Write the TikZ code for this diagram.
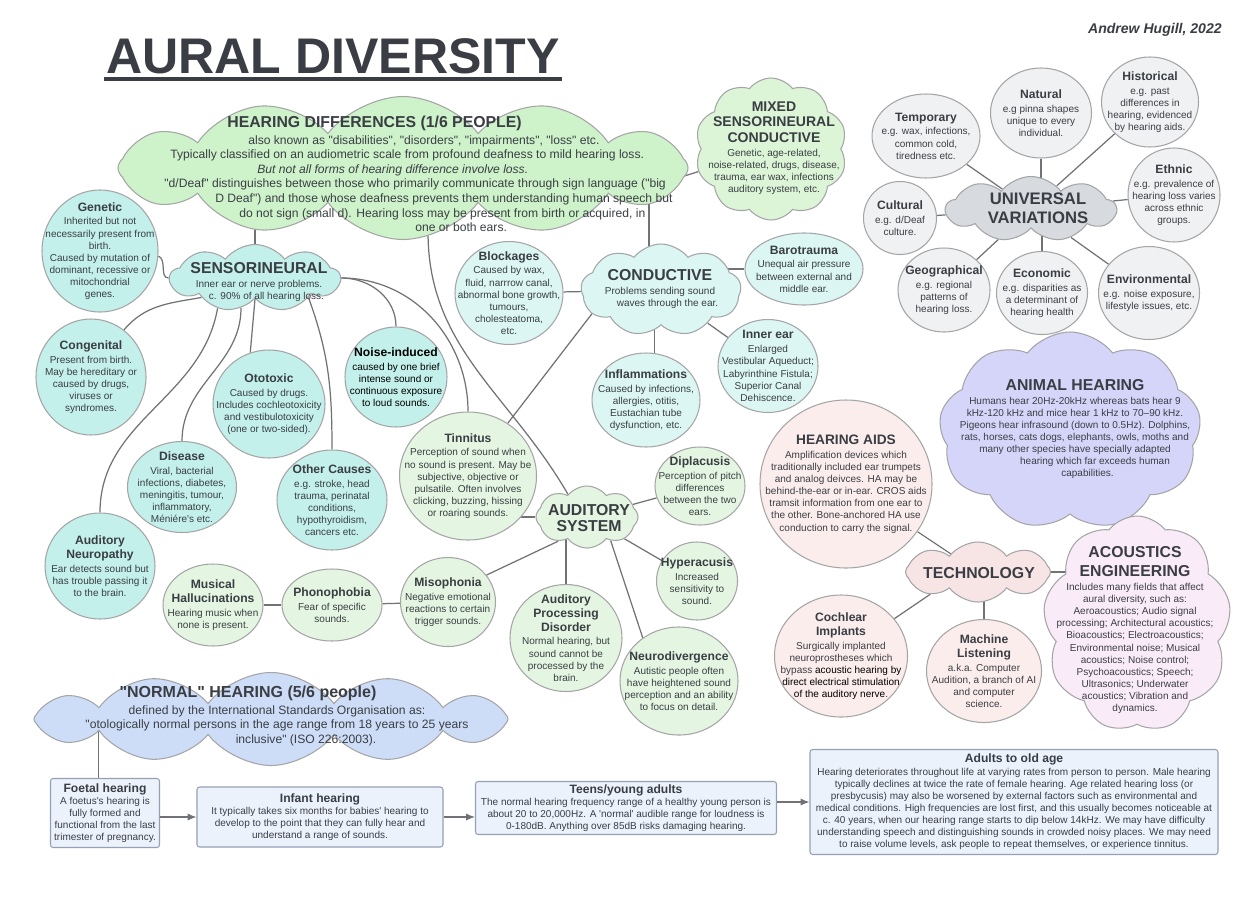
\documentclass[tikz,border=0pt]{standalone}
\usepackage{fontspec}
\setmainfont{Liberation Sans}[Ligatures=TeXOff]
\usepackage{tikz}
\usetikzlibrary{arrows.meta,positioning,calc,shapes.geometric,shapes.symbols}
\definecolor{ink}{RGB}{58,62,68}
\definecolor{rim}{RGB}{165,165,168}
\definecolor{linkgray}{RGB}{112,114,118}
\definecolor{hdgreen}{RGB}{206,242,201}
\definecolor{mixgreen}{RGB}{220,245,215}
\definecolor{sensteal}{RGB}{195,240,234}
\definecolor{condteal}{RGB}{219,246,243}
\definecolor{audgreen}{RGB}{228,246,225}
\definecolor{vargray}{RGB}{240,241,243}
\definecolor{varcloud}{RGB}{215,218,223}
\definecolor{animalblue}{RGB}{213,213,249}
\definecolor{techpink}{RGB}{251,237,236}
\definecolor{techcloud}{RGB}{247,229,229}
\definecolor{acoupink}{RGB}{249,236,248}
\definecolor{normblue}{RGB}{205,221,247}
\definecolor{boxfill}{RGB}{236,242,252}
\definecolor{boxedge}{RGB}{150,160,180}
\pgfdeclarelayer{bg}
\pgfsetlayers{bg,main}
\newcommand{\bodyfont}{\fontsize{5.7}{6.9}\selectfont}
\newcommand{\ttl}[1]{{\bfseries\fontsize{6.9}{8}\selectfont #1}}
\newcommand{\ctl}[1]{{\bfseries\fontsize{9}{10.8}\selectfont #1}}

\begin{document}
\begin{tikzpicture}[x=0.02cm, y=-0.02cm,
    dims/.style 2 args={minimum width=#1*0.02cm, minimum height=#2*0.02cm},
    bub/.style={ellipse, draw=rim, line width=0.6pt, inner sep=-3cm, align=center, text=ink, font=\bodyfont},
    sensbub/.style={bub, fill=sensteal},
    condbub/.style={bub, fill=condteal},
    audbub/.style={bub, fill=audgreen},
    varbub/.style={bub, fill=vargray},
    techbub/.style={bub, fill=techpink},
    cld/.style={cloud, cloud puffs=#1, cloud puff arc=105, cloud ignores aspect, draw=rim, line width=0.6pt, inner sep=0pt},
    ctext/.style={align=center, text=ink, font=\bodyfont, inner sep=0pt},
    bigtext/.style={ctext, font=\fontsize{6.9}{8.3}\selectfont},
    tbox/.style={rectangle, draw=boxedge, fill=boxfill, rounded corners=1.5pt, line width=0.6pt, align=center, text=ink, font=\bodyfont, inner sep=1pt},
    link/.style={draw=linkgray, line width=0.7pt},
    arrow/.style={-{Latex[length=5pt,width=4pt]}, draw=linkgray, line width=0.6pt}
]
\path[use as bounding box] (0,0) rectangle (1246,896);

\node[font=\fontsize{28.5}{30}\selectfont\bfseries, text=ink, inner sep=0pt] (title) at (333,56) {AURAL DIVERSITY};
\draw[ink, line width=2pt] ([shift={(-2,5)}]title.south west) -- ([shift={(2,5)}]title.south east);
\node[font=\fontsize{8}{9}\selectfont\bfseries\itshape, text=ink, anchor=east, inner sep=0pt] (author) at (1222,30) {Andrew Hugill, 2022};

\node[cld=12, fill=hdgreen, dims={570}{143}] (hd) at (403,168) {};
\node[bigtext, align=left, anchor=north west] (hdtext) at (164,116) {\hspace*{1.26cm}{\bfseries\fontsize{9}{10}\selectfont HEARING DIFFERENCES (1/6 PEOPLE)}\\[1pt]
\hspace*{1.68cm}also known as "disabilities", "disorders", "impairments", "loss" etc.\\
\hspace*{0.12cm}Typically classified on an audiometric scale from profound deafness to mild hearing loss.\\
\hspace*{1.86cm}\textit{But not all forms of hearing difference involve loss.}\\
"d/Deaf" distinguishes between those who primarily communicate through sign language ("big\\
\hspace*{1.02cm}D Deaf") and those whose deafness prevents them understanding human speech but\\
\hspace*{1.5cm}do not sign (small d). Hearing loss may be present from birth or acquired, in\\
\hspace*{5.02cm}one or both ears.};

\node[cld=10, fill=mixgreen, dims={152}{142}] (mix) at (771,149) {};
\node[ctext] (mixtext) at (774,148) {{\bfseries\fontsize{8}{9.4}\selectfont MIXED}\\[2pt] {\bfseries\fontsize{8}{9.4}\selectfont SENSORINEURAL}\\[2pt] {\bfseries\fontsize{8}{9.4}\selectfont CONDUCTIVE}\\[1pt] Genetic, age-related,\\ noise-related, drugs, disease,\\ trauma, ear wax, infections\\ auditory system, etc.};

\node[sensbub, dims={116}{122}] (gen) at (100,251) {\ttl{Genetic}\\[1pt] Inherited but not\\ necessarily present from\\ birth.\\ Caused by mutation of\\ dominant, recessive or\\ mitochondrial\\ genes.};
\node[cld=9, fill=sensteal, dims={170}{67}] (sens) at (255,278) {};
\node[ctext] (senstext) at (259,282) {\ctl{SENSORINEURAL}\\[1pt] Inner ear or nerve problems.\\ \hspace*{0.3cm}c. 90\% of all hearing loss.};
\node[sensbub, dims={110}{116}] (cong) at (91,377) {\ttl{Congenital}\\[1pt] Present from birth.\\ May be hereditary or\\ caused by drugs,\\ viruses or\\ syndromes.};
\node[sensbub, dims={112}{108}] (oto) at (269,404) {\ttl{Ototoxic}\\[1pt] Caused by drugs.\\ Includes cochleotoxicity\\ and vestibulotoxicity\\ (one or two-sided).};
\node[sensbub, dims={102}{100}, text=black] (noi) at (396,377) {\ttl{Noise-induced}\\[1pt] caused by one brief\\ intense sound or\\ continuous exposure\\ to loud sounds.};
\node[sensbub, dims={109}{91}] (dis) at (182,487) {\ttl{Disease}\\[1pt] Viral, bacterial\\ infections, diabetes,\\ meningitis, tumour,\\ inflammatory,\\ Méniére's etc.};
\node[sensbub, dims={110}{100}] (oth) at (332,500) {\ttl{Other Causes}\\[1pt] e.g. stroke, head\\ trauma, perinatal\\ conditions,\\ hypothyroidism,\\ cancers etc.};
\node[sensbub, dims={110}{106}] (an) at (100,566) {\ttl{Auditory}\\[1pt] \ttl{Neuropathy}\\[1pt] Ear detects sound but\\ has trouble passing it\\ to the brain.};

\node[condbub, dims={108}{103}] (blk) at (509,293) {\ttl{Blockages}\\[1pt] Caused by wax,\\ fluid, narrrow canal,\\ abnormal bone growth,\\ tumours,\\ cholesteatoma,\\ etc.};
\node[cld=9, fill=condteal, dims={160}{92}] (cond) at (661,290) {};
\node[ctext] (condtext) at (660,289) {\ctl{CONDUCTIVE}\\[1pt] Problems sending sound\\ \hspace*{0.3cm}waves through the ear.};
\node[condbub, dims={118}{72}] (baro) at (804,269) {\ttl{Barotrauma}\\[1pt] Unequal air pressure\\ between external and\\ middle ear.};
\node[condbub, dims={100}{93}] (inner) at (768,366) {\ttl{Inner ear}\\[1pt] Enlarged\\ Vestibular Aqueduct;\\ Labyrinthine Fistula;\\ Superior Canal\\ Dehiscence.};
\node[condbub, dims={108}{94}] (infl) at (646,400) {\ttl{Inflammations}\\[1pt] Caused by infections,\\ allergies, otitis,\\ Eustachian tube\\ dysfunction, etc.};

\node[audbub, dims={137}{128}] (tin) at (468,476) {\ttl{Tinnitus}\\[1pt] Perception of sound when\\ no sound is present. May be\\ subjective, objective or\\ pulsatile. Often involves\\ clicking, buzzing, hissing\\ or roaring sounds.};
\node[cld=8, fill=audgreen, dims={102}{62}] (aud) at (587,517) {};
\node[ctext] (audtext) at (589,518) {\ctl{AUDITORY}\\[2pt] \ctl{SYSTEM}};
\node[audbub, dims={90}{78}] (dipl) at (700,486) {\ttl{Diplacusis}\\[1pt] Perception of pitch\\ differences\\ between the two\\ ears.};
\node[audbub, dims={81}{78}] (hyper) at (697,581) {\ttl{Hyperacusis}\\[1pt] Increased\\ sensitivity to\\ sound.};
\node[audbub, dims={112}{107}] (apd) at (566,638) {\ttl{Auditory}\\[1pt] \ttl{Processing}\\[1pt] \ttl{Disorder}\\[1pt] Normal hearing, but\\ sound cannot be\\ processed by the\\ brain.};
\node[audbub, dims={118}{108}] (neuro) at (679,681) {\ttl{Neurodivergence}\\[1pt] Autistic people often\\ have heightened sound\\ perception and an ability\\ to focus on detail.};
\node[audbub, dims={95}{89}] (miso) at (448,602) {\ttl{Misophonia}\\[1pt] Negative emotional\\ reactions to certain\\ trigger sounds.};
\node[audbub, dims={100}{72}] (phono) at (332,605) {\ttl{Phonophobia}\\[1pt] Fear of specific\\ sounds.};
\node[audbub, dims={100}{82}] (music) at (213,605) {\ttl{Musical}\\[1pt] \ttl{Hallucinations}\\[1pt] Hearing music when\\ none is present.};

\node[varbub, dims={108}{84}] (temp) at (926,136) {\ttl{Temporary}\\[1pt] e.g. wax, infections,\\ common cold,\\ tiredness etc.};
\node[varbub, dims={101}{90}] (nat) at (1041,113) {\ttl{Natural}\\[1pt] e.g pinna shapes\\ unique to every\\ individual.};
\node[varbub, dims={97}{90}] (hist) at (1150,102) {\ttl{Historical}\\[1pt] e.g. past\\ differences in\\ hearing, evidenced\\ by hearing aids.};
\node[varbub, dims={92}{94}] (eth) at (1174,195) {\ttl{Ethnic}\\[1pt] e.g. prevalence of\\ hearing loss varies\\ across ethnic\\ groups.};
\node[varbub, dims={73}{73}] (cul) at (900,218) {\ttl{Cultural}\\[1pt] e.g. d/Deaf\\ culture.};
\node[cld=9, fill=varcloud, dims={170}{65}] (uv) at (1031,209) {};
\node[ctext] (uvtext) at (1038,208) {{\bfseries\fontsize{9.5}{11}\selectfont UNIVERSAL}\\[4pt] {\bfseries\fontsize{9.5}{11}\selectfont VARIATIONS}};
\node[varbub, dims={92}{84}] (geo) at (944,290) {\ttl{Geographical}\\[1pt] e.g. regional\\ patterns of\\ hearing loss.};
\node[varbub, dims={91}{83}] (eco) at (1042,293) {\ttl{Economic}\\[1pt] e.g. disparities as\\ a determinant of\\ hearing health};
\node[varbub, dims={101}{93}] (env) at (1149,293) {\ttl{Environmental}\\[1pt] e.g. noise exposure,\\ lifestyle issues, etc.};

\node[cld=9, fill=animalblue, dims={262}{198}] (animal) at (1070,431) {};
\node[ctext] (animaltext) at (1075,429) {\ctl{ANIMAL HEARING}\\[1pt] Humans hear 20Hz-20kHz whereas bats hear 9\\ kHz-120 kHz and mice hear 1 kHz to 70–90 kHz.\\ Pigeons hear infrasound (down to 0.5Hz). Dolphins,\\ rats, horses, cats dogs, elephants, owls, moths and\\ many other species have specially adapted\\ \hspace*{0.8cm}hearing which far exceeds human\\ \hspace*{0.5cm}capabilities.};

\node[techbub, dims={172}{168}] (aids) at (846,484) {{\bfseries\fontsize{7.8}{9}\selectfont HEARING AIDS}\\[1pt] Amplification devices which\\ traditionally included ear trumpets\\ and analog deivces. HA may be\\ behind-the-ear or in-ear. CROS aids\\ tramsit information from one ear to\\ the other. Bone-anchored HA use\\ conduction to carry the signal.};
\node[cld=8, fill=techcloud, dims={145}{60}] (tech) at (978,572) {};
\node[ctext] (techtext) at (979,573) {\ctl{TECHNOLOGY}};
\node[cld=9, fill=acoupink, dims={188}{216}] (acou) at (1137,624) {};
\node[ctext] (acoutext) at (1135,630) {\ctl{ACOUSTICS}\\[4pt] \ctl{ENGINEERING}\\[1pt] Includes many fields that affect\\ aural diversity, such as:\\ Aeroacoustics; Audio signal\\ processing; Architectural acoustics;\\ Bioacoustics; Electroacoustics;\\ Environmental noise; Musical\\ acoustics; Noise control;\\ Psychoacoustics; Speech;\\ Ultrasonics; Underwater\\ acoustics; Vibration and\\ dynamics.};
\node[techbub, dims={133}{122}] (coch) at (841,656) {\ttl{Cochlear}\\[1pt] \ttl{Implants}\\[1pt] Surgically implanted\\ neuroprostheses which\\ bypass {\color{black}acoustic hearing by}\\ {\color{black}direct electrical stimulation}\\ {\color{black}of the auditory nerve}.};
\node[techbub, dims={115}{103}] (mach) at (984,671) {\ttl{Machine}\\[1pt] \ttl{Listening}\\[1pt] a.k.a. Computer\\ Audition, a branch of AI\\ and computer\\ science.};

\node[cld=12, fill=normblue, dims={474}{93}] (norm) at (271,719) {};
\node[bigtext] (normtext) at (277,716) {{\bfseries\fontsize{9.1}{11}\selectfont "NORMAL" HEARING (5/6 people)}\hspace*{1.16cm}\\[1pt] defined by the International Standards Organisation as:\\ "otologically normal persons in the age range from 18 years to 25 years\\ \hspace*{1.16cm}inclusive" (ISO 226:2003).};

\node[tbox, dims={109}{69}] (foe) at (105,813) {\ttl{Foetal hearing}\\ A foetus's hearing is\\ fully formed and\\ functional from the last\\ trimester of pregnancy.};
\node[tbox, dims={246}{60}] (inf) at (320,817) {\ttl{Infant hearing}\\ It typically takes six months for babies' hearing to\\ develop to the point that they can fully hear and\\ understand a range of sounds.};
\node[tbox, dims={301}{53}] (teen) at (626,808) {\ttl{Teens/young adults}\\ The normal hearing frequency range of a healthy young person is\\ about 20 to 20,000Hz. A 'normal' audible range for loudness is\\ 0-180dB. Anything over 85dB risks damaging hearing.};
\node[tbox, dims={408}{105}] (adu) at (1014,802) {\ttl{Adults to old age}\\ Hearing deteriorates throughout life at varying rates from person to person. Male hearing\\ typically declines at twice the rate of female hearing. Age related hearing loss (or\\ presbycusis) may also be worsened by external factors such as environmental and\\ medical conditions. High frequencies are lost first, and this usually becomes noticeable at\\ c. 40 years, when our hearing range starts to dip below 14kHz. We may have difficulty\\ understanding speech and distinguishing sounds in crowded noisy places. We may need\\ to raise volume levels, ask people to repeat themselves, or experience tinnitus.};

\begin{pgfonlayer}{bg}
\fill[white] (0,0) rectangle (1246,896);
\draw[link] (sens) -- (sens |- hd);
\draw[link] (cond.105) -- (cond.105 |- hd);
\draw[link] ([shift={(262,14)}]hd.center) -- (mix);
\draw[link] ([shift={(25,-8)}]hd.south) to[out=-90,in=120] (aud.130);
\draw[link] (gen.-5) to[out=-20,in=180] (sens.west);
\draw[link] (sens.200) to[out=190,in=50] (cong.55);
\draw[link] (sens.219) to[out=-100,in=90] (an.north);
\draw[link] (sens.-115) to[out=-90,in=90] (dis.north);
\draw[link] (sens.south) to[out=-95,in=85] (oto.110);
\draw[link] (sens.-20) to[out=-70,in=90] (oth.north);
\draw[link] (sens.east) to[out=0,in=90] (noi.north);
\draw[link] (sens.east) to[out=0,in=90] (tin.north);
\draw[link] (blk) -- (cond);
\draw[link] (baro) -- (baro -| cond);
\draw[link] (cond) -- (inner);
\draw[link] (infl.80) -- (infl.80 |- cond);
\draw[link] (tin.53) -- (cond.199);
\draw[link] (aud) -- (aud -| tin);
\draw[link] (aud) -- (dipl);
\draw[link] (aud) -- (hyper);
\draw[link] (aud.-45) -- (neuro.130);
\draw[link] (apd) -- (apd |- aud);
\draw[link] (miso.35) -- (aud.220);
\draw[link] (miso) -- (phono);
\draw[link] (phono) -- (music);
\draw[link] (uv) -- (temp);
\draw[link] (nat) -- (nat |- uv);
\draw[link] (uv) -- (hist);
\draw[link] (uv) -- (eth);
\draw[link] (uv) -- (cul);
\draw[link] (uv) -- (geo);
\draw[link] (eco) -- (eco |- uv);
\draw[link] (uv) -- (env);
\draw[link] (tech) -- (aids);
\draw[link] (coch.35) -- (tech.205);
\draw[link] (mach) -- (mach |- tech);
\draw[link] (tech) -- (tech -| acou);
\draw[link] (foe.100) -- (foe.100 |- norm);
\end{pgfonlayer}

\draw[arrow] (foe.east |- inf) -- (inf.west);
\draw[arrow] (inf.east) -- (inf.east -| teen.west);
\draw[arrow] (teen.east |- adu) -- (adu.west);
\end{tikzpicture}
\end{document}
